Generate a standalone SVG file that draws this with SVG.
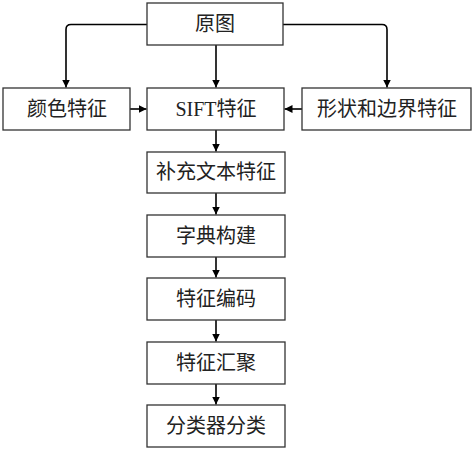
<svg xmlns="http://www.w3.org/2000/svg" width="474" height="451" viewBox="0 0 474 451">
<defs>
<marker id="ah" viewBox="0 0 10 10" refX="10" refY="5" markerWidth="8" markerHeight="8" markerUnits="userSpaceOnUse" orient="auto">
<path d="M0,0 L10,5 L0,10 Z" fill="#000"/>
</marker>
</defs>
<style>
.box{fill:#fff;stroke:#333;stroke-width:1.3}
.t{font-family:"Liberation Serif","Noto Sans CJK SC",serif;font-size:20px;fill:#222;text-anchor:middle}
.c{fill:none;stroke:#000;stroke-width:1.6}
</style>
<rect width="474" height="451" fill="#fff"/>
<g id="connectors">
<path class="c" d="M147,24.5 H71 Q66,24.5 66,29.5 V87.5" marker-end="url(#ah)"/>
<path class="c" d="M283,24.5 H382 Q387,24.5 387,29.5 V87.5" marker-end="url(#ah)"/>
<path class="c" d="M216,45 V87.5" marker-end="url(#ah)"/>
<path class="c" d="M130,109 H146.5" marker-end="url(#ah)"/>
<path class="c" d="M302,109 H284.5" marker-end="url(#ah)"/>
<path class="c" d="M216,130 V151.5" marker-end="url(#ah)"/>
<path class="c" d="M216,193 V214.5" marker-end="url(#ah)"/>
<path class="c" d="M216,257 V277.5" marker-end="url(#ah)"/>
<path class="c" d="M216,320 V341.5" marker-end="url(#ah)"/>
<path class="c" d="M216,384 V404.5" marker-end="url(#ah)"/>
</g>
<g id="n_yuantu"><rect class="box" x="147" y="3" width="136" height="42"/><text class="t" x="215" y="31">原图</text></g>
<g id="n_color"><rect class="box" x="3" y="88" width="127" height="42"/><text class="t" x="67" y="116">颜色特征</text></g>
<g id="n_sift"><rect class="box" x="147" y="88" width="137" height="42"/><text class="t" x="216" y="116">SIFT特征</text></g>
<g id="n_shape"><rect class="box" x="302" y="88" width="169" height="42"/><text class="t" x="387" y="116">形状和边界特征</text></g>
<g id="n_text"><rect class="box" x="147" y="152" width="138" height="41"/><text class="t" x="216" y="179">补充文本特征</text></g>
<g id="n_dict"><rect class="box" x="147" y="215" width="138" height="42"/><text class="t" x="216" y="243">字典构建</text></g>
<g id="n_code"><rect class="box" x="147" y="278" width="138" height="42"/><text class="t" x="216" y="306">特征编码</text></g>
<g id="n_pool"><rect class="box" x="147" y="342" width="138" height="42"/><text class="t" x="216" y="370">特征汇聚</text></g>
<g id="n_cls"><rect class="box" x="147" y="405" width="138" height="42"/><text class="t" x="216" y="433">分类器分类</text></g>
</svg>
